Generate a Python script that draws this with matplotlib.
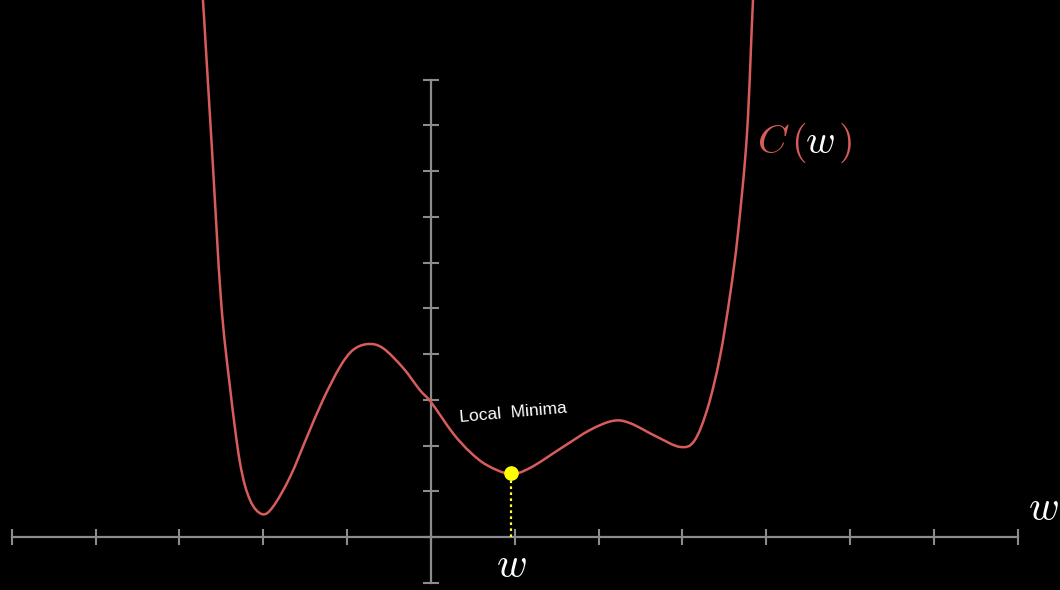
import matplotlib
matplotlib.use("Agg")
import matplotlib.pyplot as plt
from matplotlib.path import Path
from matplotlib.patches import PathPatch

plt.rcParams['mathtext.fontset'] = 'cm'

# curve C(w)
w_vals = [-2.756, -2.720, -2.684, -2.612, -2.505, -2.398, -2.278, -2.159, -2.016,
          -1.885, -1.682, -1.479, -1.288, -1.086, -0.930, -0.752, -0.573, -0.334,
          -0.131, 0.0, 0.262, 0.465, 0.668, 0.942, 1.181, 1.575, 1.897, 2.171,
          2.374, 2.696, 2.970, 3.140, 3.300, 3.447, 3.567, 3.662, 3.770, 3.841, 3.877]
c_vals = [12.62, 11.74, 10.65, 8.46, 5.18, 3.28, 1.62, 0.81, 0.50,
          0.66, 1.31, 2.19, 3.00, 3.72, 4.09, 4.22, 4.13, 3.70,
          3.21, 2.95, 2.27, 1.86, 1.57, 1.38, 1.51, 1.97, 2.34, 2.54,
          2.49, 2.19, 1.97, 2.10, 2.82, 3.94, 5.29, 6.65, 8.84, 11.74, 12.62]

# local minimum marker
min_w = 0.954
min_c = 1.40

x_ticks = list(range(-5, 8))
y_ticks = list(range(-1, 11))

red = '#d95c5c'
grey = '#8c8c8c'

fig = plt.figure(figsize=(10.6, 5.9), dpi=100, facecolor='black')
ax = fig.add_axes([0, 0, 1, 1])
ax.set_facecolor('black')
ax.set_xlim(-5.141, 7.503)
ax.set_ylim(-1.159, 11.743)

# axes through the origin
for s in ['top', 'right']:
    ax.spines[s].set_visible(False)
ax.spines['left'].set_position(('data', 0))
ax.spines['bottom'].set_position(('data', 0))
ax.spines['left'].set_bounds(y_ticks[0], y_ticks[-1])
ax.spines['bottom'].set_bounds(x_ticks[0], x_ticks[-1])
for s in ['left', 'bottom']:
    ax.spines[s].set_color(grey)
    ax.spines[s].set_linewidth(1.6)
ax.set_xticks(x_ticks)
ax.set_yticks(y_ticks)
ax.tick_params(direction='inout', length=12, width=1.5, color=grey,
               labelbottom=False, labelleft=False)

# smooth curve: cubic bezier segments through the read points
pts = list(zip(w_vals, c_vals))
verts = [pts[0]]
codes = [Path.MOVETO]
n = len(pts)
for i in range(n - 1):
    p0 = pts[max(i - 1, 0)]
    p1 = pts[i]
    p2 = pts[i + 1]
    p3 = pts[min(i + 2, n - 1)]
    c1 = (p1[0] + (p2[0] - p0[0]) / 6, p1[1] + (p2[1] - p0[1]) / 6)
    c2 = (p2[0] - (p3[0] - p1[0]) / 6, p2[1] - (p3[1] - p1[1]) / 6)
    verts += [c1, c2, p2]
    codes += [Path.CURVE4] * 3
ax.add_patch(PathPatch(Path(verts, codes), fill=False, edgecolor=red, lw=1.8, zorder=3))

# dotted drop line and dot
ax.plot([min_w, min_w], [0, min_c], color='#ffff33', lw=1.6, ls=(0, (1.2, 1.5)), zorder=4)
ax.plot([min_w], [min_c], 'o', color='#ffff00', markersize=9.5, zorder=5)

ax.text(min_w, -0.875, '$w$', color='white', fontsize=30, ha='center', va='baseline')
ax.text(7.12, 0.372, '$w$', color='white', fontsize=30, ha='left', va='baseline')

# label C(w): red C and brackets, white w
ax.text(3.889, 8.40, '$C$', color=red, fontsize=29, ha='left', va='baseline')
ax.text(4.30, 8.40, '$($', color=red, fontsize=29, ha='left', va='baseline')
ax.text(4.465, 8.40, '$w$', color='white', fontsize=29, ha='left', va='baseline')
ax.text(4.86, 8.40, '$)$', color=red, fontsize=29, ha='left', va='baseline')

ax.text(0.978, 2.71, 'Local  Minima', color='white', fontsize=12.5,
        family='Liberation Sans', rotation=5, ha='center', va='center',
        rotation_mode='anchor')

fig.savefig('out.png', dpi=100, facecolor='black')
